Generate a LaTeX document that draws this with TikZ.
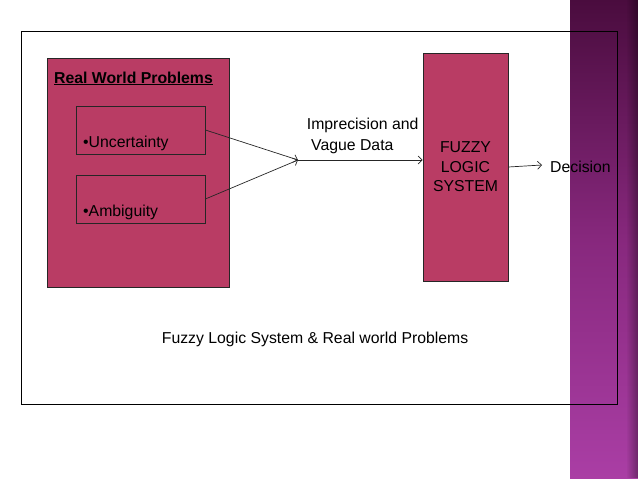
\documentclass[tikz,border=0pt]{standalone}
\usepackage{fontspec}
\setmainfont{Liberation Sans}
\usetikzlibrary{arrows.meta,fadings}
\definecolor{boxfill}{RGB}{185,60,100}
\definecolor{striptop}{RGB}{74,12,62}
\definecolor{stripmid}{RGB}{135,40,125}
\definecolor{stripbot}{RGB}{170,62,165}
\tikzfading[name=fadeR, left color=transparent!100, right color=transparent!0]
\begin{document}
\begin{tikzpicture}[x=1pt,y=-1pt,
  font=\fontsize{15.8}{19.5}\selectfont,
  box/.style={draw=black!85, line width=0.8pt, fill=boxfill, inner sep=0pt},
  lbl/.style={inner sep=0pt, anchor=base west, text=black},
  conn/.style={draw=black!85, line width=0.7pt, -{Straight Barb[length=4pt,width=8pt]}}]
\useasboundingbox (0,0) rectangle (638,479);
% decorative strip
\shade[top color=striptop, bottom color=stripbot, middle color=stripmid] (570,0) rectangle (638,478);
\fill[black, opacity=0.35, path fading=fadeR] (626,0) rectangle (638,478);
% frame
\draw[black, line width=0.9pt] (21,31) rectangle (617,404);
% real world problems box
\node[box, minimum width=182pt, minimum height=229pt] (rwp) at (138,172.5) {};
\node[lbl, font=\fontsize{15.8}{19.5}\selectfont\bfseries] (rwpt) at (54,83) {\underline{Real World Problems}};
\node[box, minimum width=129pt, minimum height=48pt] (unc) at (140.5,130) {};
\node[lbl] (unct) at (83,147) {•Uncertainty};
\node[box, minimum width=129pt, minimum height=48pt] (amb) at (140.5,199) {};
\node[lbl] (ambt) at (83,216) {•Ambiguity};
% fuzzy logic system
\node[box, minimum width=85pt, minimum height=228pt, align=center] (fls) at (465.5,167) {FUZZY\\LOGIC\\SYSTEM};
% merge point
\coordinate (m) at (298,160);
\draw[conn] (unc.east) -- (m);
\draw[conn] (amb.east) -- (m);
\draw[conn] (m) -- (m -| fls.west);
\node[lbl] (imp1) at (306.7,129.3) {Imprecision and};
\node[lbl] (imp2) at (311,150) {Vague Data};
% decision
\coordinate (dec) at (542,165);
\draw[conn] (fls.east) -- (dec);
\node[lbl] (dect) at (550,172.3) {Decision};
% caption
\node[lbl] (cap) at (161.7,343.3) {Fuzzy Logic System \& Real world Problems};
\end{tikzpicture}
\end{document}
